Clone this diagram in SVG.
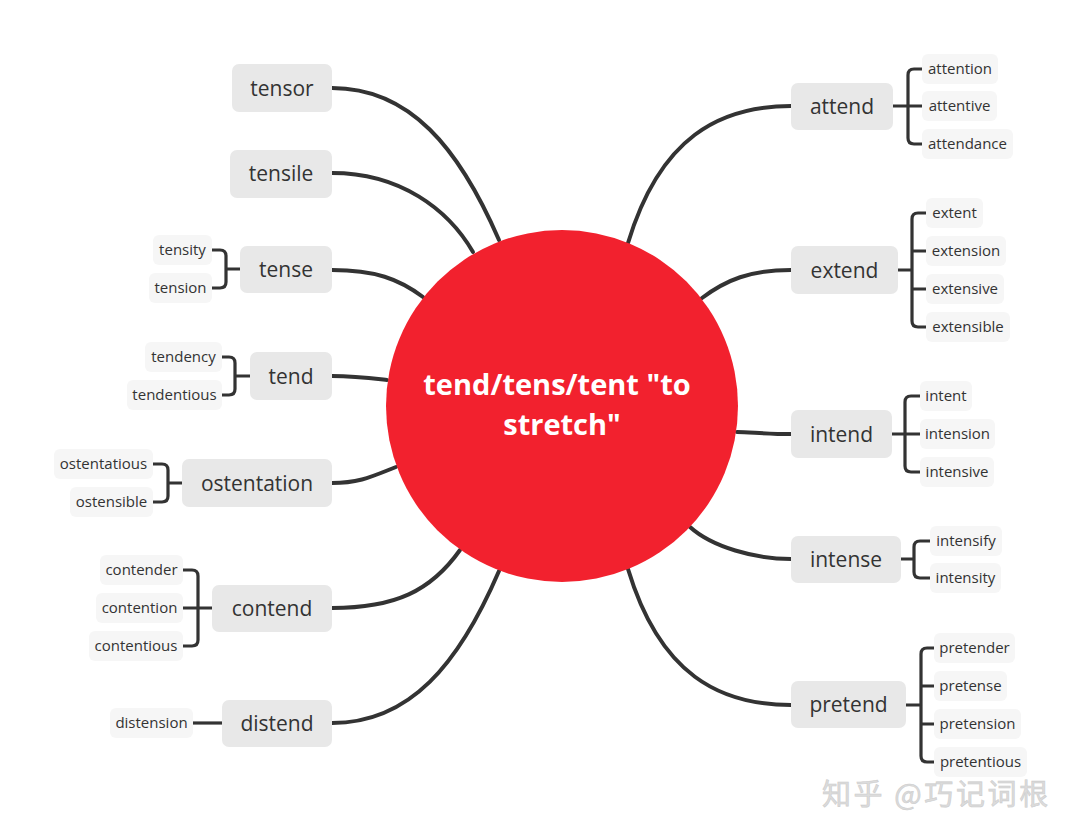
<svg xmlns="http://www.w3.org/2000/svg" width="1080" height="830" viewBox="0 0 1080 830">
<style>
.bg{fill:#ffffff}
.main rect{fill:#e8e8e8}
.main text{font-family:"Open Sans","Noto Sans",sans-serif;font-size:21px;fill:#333;text-anchor:middle}
.leaf rect{fill:#f6f6f6}
.leaf text{font-family:"Open Sans","Noto Sans",sans-serif;font-size:15px;fill:#333;text-anchor:middle}
.conn path{fill:none;stroke:#333;stroke-width:4;stroke-linecap:round}
.br path{fill:none;stroke:#333;stroke-width:3.2}
.center text{font-family:"Open Sans","Noto Sans",sans-serif;font-size:29px;font-weight:bold;fill:#fff;text-anchor:middle}
.wm{font-family:"Noto Sans CJK SC","Open Sans",sans-serif;font-size:29px;letter-spacing:2.6px;fill:#d6d6d6;stroke:#c4c4c4;stroke-width:0.6;opacity:0.85}
</style>
<rect class="bg" x="0" y="0" width="1080" height="830"/>

<g id="connectors" class="conn">
<path d="M332,88 C410,88 459,148 499,240"/>
<path d="M332,173 C400,173 448,209 473,252"/>
<path d="M332,270 C375,270 399,279 423,297"/>
<path d="M332,376 C355,376 370,378 387,380"/>
<path d="M332,483 C360,483 373,476 396,467"/>
<path d="M332,608 C395,608 431,591 460,550"/>
<path d="M332,723 C410,723 459,664 499,571"/>
<path d="M791,106 C720,106 660,137 628,243"/>
<path d="M791,270 C750,270 726,280 702,298"/>
<path d="M791,434 C765,434 750,432 737,432"/>
<path d="M791,559 C755,559 712,547 690,527"/>
<path d="M791,705 C720,705 660,675 628,569"/>
</g>

<g id="brackets" class="br">
<path d="M212,250 H220 Q226,250 226,256 V282 Q226,288 220,288 H212 M226,269 H240"/>
<path d="M222,357 H229 Q235,357 235,363 V389 Q235,395 229,395 H222 M235,376 H250"/>
<path d="M153,464 H162 Q168,464 168,470 V496 Q168,502 162,502 H153 M168,483 H182"/>
<path d="M183,570 H192 Q198,570 198,576 V640 Q198,646 192,646 H183 M183,608 H212"/>
<path d="M193,723 H222"/>
<path d="M922,69 H914 Q908,69 908,75 V138 Q908,144 914,144 H922 M893,106 H922"/>
<path d="M926,213 H918 Q912,213 912,219 V321 Q912,327 918,327 H926 M898,270 H912 M912,251 H926 M912,289 H926"/>
<path d="M920,396 H911 Q905,396 905,402 V466 Q905,472 911,472 H920 M892,434 H920"/>
<path d="M930,541 H920 Q914,541 914,547 V572 Q914,578 920,578 H930 M901,559 H914"/>
<path d="M934,648 H927 Q921,648 921,654 V756 Q921,762 927,762 H934 M906,705 H921 M921,686 H934 M921,724 H934"/>
</g>

<g id="center" class="center">
<circle cx="562" cy="406" r="176" fill="#f2212e"/>
<text x="557" y="395">tend/tens/tent "to</text>
<text x="562" y="435">stretch"</text>
</g>

<g id="tensor" class="main"><rect x="232" y="64" width="100" height="48" rx="7"/><text x="282" y="95.5">tensor</text></g>
<g id="tensile" class="main"><rect x="230" y="150" width="102" height="48" rx="7"/><text x="281" y="180.5">tensile</text></g>
<g id="tense" class="main"><rect x="240" y="246" width="92" height="47" rx="7"/><text x="286" y="277">tense</text></g>
<g id="tend" class="main"><rect x="250" y="352" width="82" height="48" rx="7"/><text x="291" y="383.5">tend</text></g>
<g id="ostentation" class="main"><rect x="182" y="459" width="150" height="48" rx="7"/><text x="257" y="490.5">ostentation</text></g>
<g id="contend" class="main"><rect x="212" y="585" width="120" height="47" rx="7"/><text x="272" y="616">contend</text></g>
<g id="distend" class="main"><rect x="222" y="700" width="110" height="47" rx="7"/><text x="277" y="731">distend</text></g>

<g id="attend" class="main"><rect x="791" y="83" width="102" height="47" rx="7"/><text x="842" y="114">attend</text></g>
<g id="extend" class="main"><rect x="791" y="246" width="107" height="48" rx="7"/><text x="844.5" y="277.5">extend</text></g>
<g id="intend" class="main"><rect x="791" y="410" width="101" height="48" rx="7"/><text x="841.5" y="441.5">intend</text></g>
<g id="intense" class="main"><rect x="791" y="536" width="110" height="47" rx="7"/><text x="846" y="567">intense</text></g>
<g id="pretend" class="main"><rect x="791" y="681" width="115" height="47" rx="7"/><text x="848.5" y="712">pretend</text></g>

<g id="tensity" class="leaf"><rect x="153" y="235" width="59" height="30" rx="6"/><text x="182.5" y="255">tensity</text></g>
<g id="tension" class="leaf"><rect x="149" y="273" width="63" height="30" rx="6"/><text x="180.5" y="293">tension</text></g>
<g id="tendency" class="leaf"><rect x="145" y="342" width="77" height="30" rx="6"/><text x="183.5" y="362">tendency</text></g>
<g id="tendentious" class="leaf"><rect x="127" y="380" width="95" height="30" rx="6"/><text x="174.5" y="400">tendentious</text></g>
<g id="ostentatious" class="leaf"><rect x="54" y="449" width="99" height="30" rx="6"/><text x="103.5" y="469">ostentatious</text></g>
<g id="ostensible" class="leaf"><rect x="70" y="487" width="83" height="30" rx="6"/><text x="111.5" y="507">ostensible</text></g>
<g id="contender" class="leaf"><rect x="100" y="555" width="83" height="30" rx="6"/><text x="141.5" y="575">contender</text></g>
<g id="contention" class="leaf"><rect x="96" y="593" width="87" height="30" rx="6"/><text x="139.5" y="613">contention</text></g>
<g id="contentious" class="leaf"><rect x="89" y="631" width="94" height="30" rx="6"/><text x="136" y="651">contentious</text></g>
<g id="distension" class="leaf"><rect x="110" y="708" width="83" height="30" rx="6"/><text x="151.5" y="728">distension</text></g>

<g id="attention" class="leaf"><rect x="922" y="54" width="76" height="30" rx="6"/><text x="960" y="74">attention</text></g>
<g id="attentive" class="leaf"><rect x="922" y="91" width="75" height="30" rx="6"/><text x="959.5" y="111">attentive</text></g>
<g id="attendance" class="leaf"><rect x="922" y="129" width="91" height="30" rx="6"/><text x="967.5" y="149">attendance</text></g>
<g id="extent" class="leaf"><rect x="926" y="198" width="57" height="30" rx="6"/><text x="954.5" y="218">extent</text></g>
<g id="extension" class="leaf"><rect x="926" y="236" width="80" height="30" rx="6"/><text x="966" y="256">extension</text></g>
<g id="extensive" class="leaf"><rect x="926" y="274" width="78" height="30" rx="6"/><text x="965" y="294">extensive</text></g>
<g id="extensible" class="leaf"><rect x="926" y="312" width="84" height="30" rx="6"/><text x="968" y="332">extensible</text></g>
<g id="intent" class="leaf"><rect x="920" y="381" width="52" height="30" rx="6"/><text x="946" y="401">intent</text></g>
<g id="intension" class="leaf"><rect x="920" y="419" width="75" height="30" rx="6"/><text x="957.5" y="439">intension</text></g>
<g id="intensive" class="leaf"><rect x="920" y="457" width="74" height="30" rx="6"/><text x="957" y="477">intensive</text></g>
<g id="intensify" class="leaf"><rect x="930" y="526" width="72" height="30" rx="6"/><text x="966" y="546">intensify</text></g>
<g id="intensity" class="leaf"><rect x="930" y="563" width="71" height="30" rx="6"/><text x="965.5" y="583">intensity</text></g>
<g id="pretender" class="leaf"><rect x="934" y="633" width="81" height="30" rx="6"/><text x="974.5" y="653">pretender</text></g>
<g id="pretense" class="leaf"><rect x="934" y="671" width="73" height="30" rx="6"/><text x="970.5" y="691">pretense</text></g>
<g id="pretension" class="leaf"><rect x="934" y="709" width="87" height="30" rx="6"/><text x="977.5" y="729">pretension</text></g>
<g id="pretentious" class="leaf"><rect x="934" y="747" width="93" height="30" rx="6"/><text x="980.5" y="767">pretentious</text></g>

<text class="wm" x="822" y="805">知乎 @巧记词根</text>
</svg>
